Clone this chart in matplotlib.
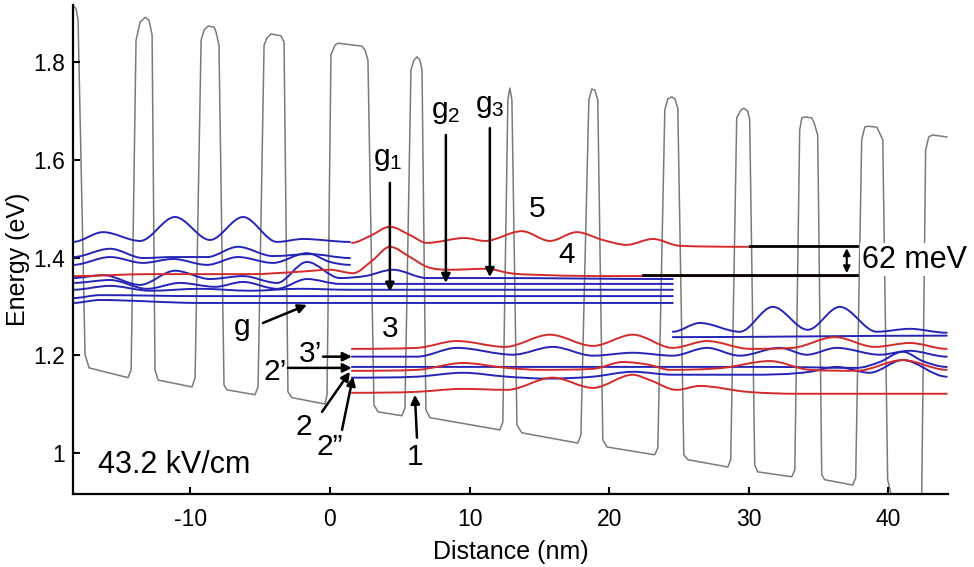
import numpy as np
import matplotlib
matplotlib.use("Agg")
import matplotlib.pyplot as plt
from matplotlib.path import Path
from matplotlib.patches import PathPatch

plt.rcParams['font.family'] = ['Liberation Sans', 'DejaVu Sans']
plt.rcParams['mathtext.default'] = 'regular'
plt.rcParams['axes.unicode_minus'] = False

# conduction band profile (nm, eV)
band_x = [-18.40, -18.18, -18.04, -17.54, -17.25, -14.46, -14.24, -13.89, -13.60, -13.24, -12.96, -12.74,
          -12.53, -12.31, -9.88, -9.66, -9.23, -9.02, -8.73, -8.30, -8.16, -7.95, -7.59, -7.37, -5.37,
          -5.15, -4.72, -4.51, -4.22, -3.51, -3.29, -3.01, -2.72, -0.36, -0.21, 0.07, 0.36, 0.57, 2.29,
          2.51, 2.72, 3.15, 3.44, 5.15, 5.37, 5.80, 6.01, 6.23, 6.44, 6.59, 6.87, 7.16, 12.17, 12.38,
          12.74, 12.88, 13.03, 13.39, 13.74, 17.75, 17.97, 18.54, 18.75, 18.97, 19.18, 19.54, 19.83,
          23.26, 23.48, 23.98, 24.19, 24.48, 24.70, 24.91, 25.34, 25.63, 28.49, 28.70, 29.13, 29.42,
          29.64, 29.92, 30.06, 30.42, 30.64, 33.07, 33.29, 33.64, 33.79, 34.00, 34.50, 34.65, 34.93,
          35.22, 35.43, 37.44, 37.65, 38.08, 38.30, 38.51, 39.16, 39.30, 39.59, 39.94, 40.16, 40.30,
          42.23, 42.38, 42.66, 42.88, 43.16, 44.17]
band_e = [1.917, 1.909, 1.886, 1.201, 1.174, 1.154, 1.170, 1.845, 1.882, 1.892, 1.886, 1.856,
          1.170, 1.149, 1.135, 1.154, 1.845, 1.866, 1.874, 1.872, 1.862, 1.835, 1.139, 1.129, 1.119,
          1.135, 1.835, 1.850, 1.858, 1.854, 1.841, 1.125, 1.113, 1.100, 1.119, 1.815, 1.835, 1.839, 1.833,
          1.825, 1.804, 1.098, 1.084, 1.076, 1.092, 1.784, 1.804, 1.811, 1.804, 1.784, 1.088, 1.072, 1.047, 1.063,
          1.723, 1.747, 1.723, 1.057, 1.041, 1.020, 1.037, 1.723, 1.745, 1.743, 1.723, 1.027, 1.012,
          0.996, 1.010, 1.702, 1.725, 1.729, 1.725, 1.706, 0.996, 0.986, 0.971, 0.986, 1.686, 1.702,
          1.706, 1.700, 1.682, 0.975, 0.961, 0.951, 0.965, 1.661, 1.686, 1.688, 1.686, 1.678, 1.651,
          0.955, 0.945, 0.934, 0.949, 1.641, 1.667, 1.669, 1.667, 1.659, 1.641, 0.945, 0.918, 0.904,
          0.904, 0.918, 1.620, 1.647, 1.651, 1.647]

# wavefunctions (blue / red), left period
l1_x = [-18.40, -16.25, -13.60, -11.10, -8.59, -6.23, -3.79, -1.93, 1.43]
l1_e = [1.432, 1.452, 1.434, 1.483, 1.436, 1.483, 1.432, 1.438, 1.432]
l2_x = [-18.40, -15.75, -13.39, -11.24, -8.80, -6.59, -4.08, -1.43, 1.43]
l2_e = [1.401, 1.418, 1.399, 1.401, 1.401, 1.422, 1.403, 1.407, 1.399]
l3_x = [-18.40, -15.75, -13.39, -11.24, -8.80, -6.59, -4.08, -1.65, 0.00, 1.43]
l3_e = [1.385, 1.401, 1.389, 1.397, 1.385, 1.401, 1.389, 1.409, 1.391, 1.385]

g1_x = [-18.40, -16.25, -13.60, -11.10, -8.59, -6.23, -3.79, -1.65, 0.72, 2.51, 4.51, 6.94, 11.45, 24.55]
g1_e = [1.358, 1.364, 1.344, 1.373, 1.356, 1.362, 1.348, 1.391, 1.358, 1.362, 1.375, 1.358, 1.358, 1.356]
g2_x = [-18.40, -15.75, -13.10, -10.74, -8.23, -6.23, -3.79, -1.65, 0.72, 24.55]
g2_e = [1.348, 1.354, 1.336, 1.348, 1.340, 1.350, 1.336, 1.356, 1.346, 1.346]
g3_x = [-18.40, -15.75, -12.88, -9.31, -5.73, -2.15, 1.43, 24.55]
g3_e = [1.334, 1.342, 1.332, 1.336, 1.332, 1.336, 1.334, 1.334]
g4_x = [-18.40, -16.46, -9.31, 1.43, 24.55]
g4_e = [1.317, 1.323, 1.321, 1.321, 1.321]
g5_x = [-18.40, -16.46, -9.31, 24.55]
g5_e = [1.307, 1.313, 1.307, 1.307]

# upper laser states 5 and 4
s5_x = [1.57, 2.86, 4.29, 5.73, 6.94, 9.66, 11.10, 13.74, 15.75, 17.68, 19.54, 21.26, 23.12, 25.05, 30.06]
s5_e = [1.430, 1.444, 1.463, 1.446, 1.430, 1.440, 1.434, 1.454, 1.434, 1.452, 1.436, 1.426, 1.438, 1.424, 1.422]
s4_x = [-18.40, -12.88, -5.73, -2.15, 0.00, 1.65, 3.08, 4.29, 5.73, 6.94, 8.59, 11.24, 12.88, 15.53, 19.83,
        22.41, 37.72]
s4_e = [1.362, 1.366, 1.366, 1.371, 1.375, 1.368, 1.395, 1.422, 1.401, 1.381, 1.375, 1.377, 1.368, 1.364,
        1.362, 1.362, 1.362]

# lower states 3, 3', 2', 2, 2'', 1
s3_x = [1.57, 6.23, 9.09, 12.53, 15.75, 18.83, 21.69, 24.55, 27.00, 30.06, 33.14, 36.15, 39.01, 41.52, 44.17]
s3_e = [1.213, 1.215, 1.229, 1.217, 1.242, 1.219, 1.242, 1.215, 1.229, 1.213, 1.215, 1.237, 1.217, 1.225, 1.213]
s3p_x = [1.57, 6.23, 9.09, 13.10, 15.96, 18.83, 21.69, 24.55, 27.00, 29.35, 32.21, 34.14, 36.29, 39.37, 41.52,
         44.17]
s3p_e = [1.197, 1.197, 1.215, 1.201, 1.217, 1.199, 1.205, 1.199, 1.215, 1.199, 1.215, 1.201, 1.215, 1.201,
         1.209, 1.197]
s2p_x = [1.57, 12.17, 22.41, 31.50, 37.72, 39.37, 41.02, 42.45, 44.17]
s2p_e = [1.176, 1.176, 1.176, 1.176, 1.174, 1.186, 1.207, 1.188, 1.176]
s2_x = [1.57, 6.23, 9.52, 12.67, 15.03, 18.83, 20.97, 22.91, 24.34, 28.13, 31.50, 34.36, 37.72, 41.02, 44.17]
s2_e = [1.168, 1.170, 1.184, 1.174, 1.170, 1.172, 1.186, 1.180, 1.170, 1.174, 1.188, 1.170, 1.168, 1.190, 1.170]
s2pp_x = [1.57, 6.23, 9.52, 12.67, 15.53, 18.83, 21.69, 24.55, 30.06, 34.36, 36.29, 38.65, 41.02, 44.17]
s2pp_e = [1.154, 1.156, 1.164, 1.156, 1.152, 1.156, 1.166, 1.160, 1.160, 1.166, 1.176, 1.164, 1.190, 1.156]
s1_x = [1.57, 6.23, 9.52, 12.67, 15.96, 18.83, 21.69, 22.91, 24.84, 26.49, 29.85, 33.64, 44.17]
s1_e = [1.123, 1.125, 1.131, 1.129, 1.154, 1.133, 1.160, 1.149, 1.129, 1.137, 1.125, 1.121, 1.121]

# right period injector states
u1_x = [24.55, 26.49, 29.35, 31.71, 34.22, 36.51, 39.16, 41.52, 44.17]
u1_e = [1.248, 1.266, 1.248, 1.299, 1.252, 1.299, 1.248, 1.254, 1.246]
u2_x = [24.55, 44.17]
u2_e = [1.237, 1.240]

BLUE = '#2424b8'
RED = '#d42a2a'


def smooth_curve(ax, xs, ys, color, lw=1.4):
    # monotone cubic drawn as bezier path through the read points
    x = np.asarray(xs, float)
    y = np.asarray(ys, float)
    n = len(x)
    d = np.diff(y) / np.diff(x)
    m = np.zeros(n)
    for i in range(1, n - 1):
        if d[i - 1] * d[i] > 0:
            s = (d[i - 1] * (x[i + 1] - x[i]) + d[i] * (x[i] - x[i - 1])) / (x[i + 1] - x[i - 1])
            lim = 3 * min(abs(d[i - 1]), abs(d[i]))
            m[i] = np.sign(s) * min(abs(s), lim)
    verts = [(x[0], y[0])]
    codes = [Path.MOVETO]
    for i in range(n - 1):
        h = x[i + 1] - x[i]
        verts += [(x[i] + h / 3, y[i] + m[i] * h / 3),
                  (x[i + 1] - h / 3, y[i + 1] - m[i + 1] * h / 3),
                  (x[i + 1], y[i + 1])]
        codes += [Path.CURVE4] * 3
    ax.add_patch(PathPatch(Path(verts, codes), fill=False, edgecolor=color, lw=lw,
                           capstyle='round', joinstyle='round', zorder=2))


fig = plt.figure(figsize=(9.74, 5.67), dpi=100)
ax = fig.add_axes([0.075, 0.129, 0.898, 0.862])

ax.plot(band_x, band_e, color='#7a7a7a', lw=1.1, zorder=1)

for cx, ce in [(l1_x, l1_e), (l2_x, l2_e), (l3_x, l3_e), (g1_x, g1_e), (g2_x, g2_e), (g3_x, g3_e),
               (g4_x, g4_e), (g5_x, g5_e), (s3p_x, s3p_e), (s2p_x, s2p_e), (s2pp_x, s2pp_e),
               (u1_x, u1_e), (u2_x, u2_e)]:
    smooth_curve(ax, cx, ce, BLUE)
for cx, ce in [(s5_x, s5_e), (s4_x, s4_e), (s3_x, s3_e), (s2_x, s2_e), (s1_x, s1_e)]:
    smooth_curve(ax, cx, ce, RED)

# 62 meV markers
ax.plot([30.06, 37.72], [1.423, 1.423], color='k', lw=2, zorder=3)
ax.plot([22.41, 37.72], [1.365, 1.365], color='k', lw=2, zorder=3)
ax.annotate('', xy=(37.01, 1.419), xytext=(37.01, 1.368),
            arrowprops=dict(arrowstyle='<|-|>', color='k', lw=1.5, mutation_scale=10,
                            shrinkA=0, shrinkB=0))
ax.text(38.08, 1.379, '62 meV', fontsize=22, ha='left', va='baseline', zorder=5,
        bbox=dict(facecolor='white', edgecolor='none', pad=1))

# arrows pointing at states
arrows = [((4.29, 1.553), (4.29, 1.330)), ((8.30, 1.651), (8.30, 1.348)), ((11.45, 1.665), (11.45, 1.360)),
          ((-4.80, 1.266), (-1.65, 1.303)), ((-0.50, 1.197), (1.57, 1.197)), ((-3.01, 1.174), (1.57, 1.174)),
          ((-0.57, 1.084), (1.43, 1.166)), ((0.86, 1.047), (1.65, 1.156)), ((6.23, 1.031), (6.08, 1.119))]
for tail, head in arrows:
    ax.annotate('', xy=head, xytext=tail,
                arrowprops=dict(arrowstyle='-|>', color='k', lw=1.8, mutation_scale=13,
                                shrinkA=0, shrinkB=0), zorder=4)

labels = [('g$_1$', 4.15, 1.590), ('g$_2$', 8.30, 1.686), ('g$_3$', 11.45, 1.698), ('5', 14.82, 1.483),
          ('4', 16.96, 1.389), ('3', 4.29, 1.237), ('g', -6.30, 1.242), ('3\u2019', -1.36, 1.186),
          ('2\u2019', -3.94, 1.149), ('2', -1.86, 1.037), ('2\u201d', 0.00, 0.996), ('1', 6.08, 0.975)]
for txt, lx, ly in labels:
    ax.text(lx, ly, txt, fontsize=21.5, ha='center', va='baseline', zorder=5)
ax.text(-16.61, 0.959, '43.2 kV/cm', fontsize=22, ha='left', va='baseline')

ax.set_xlim(-18.40, 44.24)
ax.set_ylim(0.916, 1.917)
ax.set_xticks([-10, 0, 10, 20, 30, 40])
ax.set_yticks([1.0, 1.2, 1.4, 1.6, 1.8])
ax.set_yticklabels(['1', '1.2', '1.4', '1.6', '1.8'])
ax.spines['top'].set_visible(False)
ax.spines['right'].set_visible(False)
ax.spines['left'].set_linewidth(1.6)
ax.spines['bottom'].set_linewidth(1.6)
ax.tick_params(direction='in', length=5, width=1.5, labelsize=16.5)
ax.tick_params(axis='x', pad=10)
ax.tick_params(axis='y', pad=6)
ax.set_xlabel('Distance (nm)', fontsize=18)
ax.set_ylabel('Energy (eV)', fontsize=18)
ax.xaxis.set_label_coords(0.5, -0.094)
ax.yaxis.set_label_coords(-0.049, 0.48)

plt.savefig('out.png', dpi=100)
